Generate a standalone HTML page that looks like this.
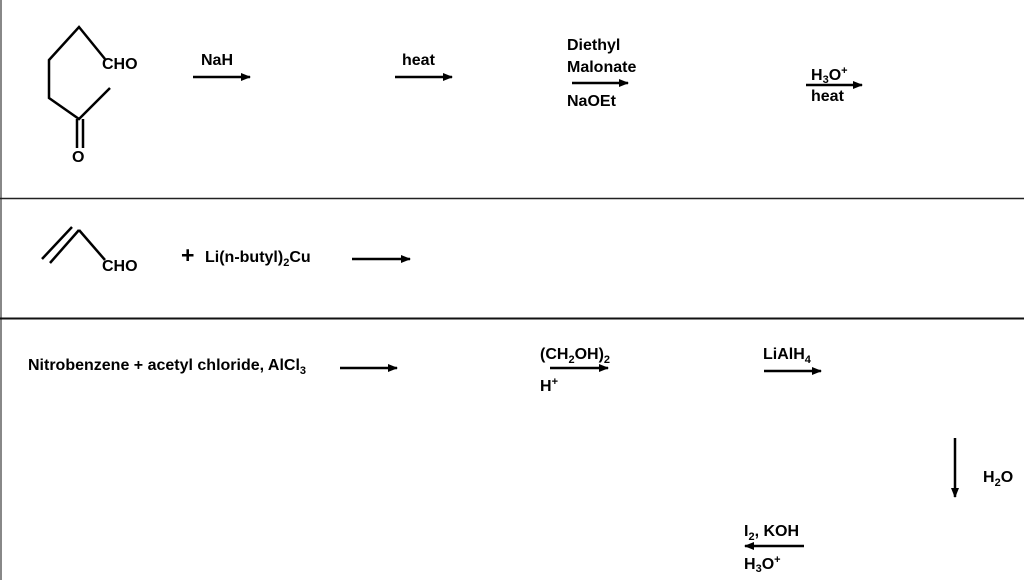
<!DOCTYPE html>
<html><head><style>
html,body{margin:0;padding:0;background:#fff;}
svg{display:block;}
text{font-family:"Liberation Sans",sans-serif;font-weight:bold;font-size:16px;fill:#000;}
.s{font-size:11px;}
</style></head><body>
<svg width="1024" height="580" viewBox="0 0 1024 580">
<defs><marker id="a" markerWidth="10" markerHeight="10" refX="9" refY="5" orient="auto" markerUnits="userSpaceOnUse"><path d="M0,1 L10,5 L0,9 Z" fill="#000"/></marker></defs>
<line x1="1" y1="0" x2="1" y2="580" stroke="#888" stroke-width="2"/>
<line x1="0" y1="198.5" x2="1024" y2="198.5" stroke="#222" stroke-width="1.5"/>
<line x1="0" y1="318.5" x2="1024" y2="318.5" stroke="#111" stroke-width="2"/>
<g stroke="#000" stroke-width="2.5" fill="none">
<polyline points="105,59 79,27 49,60 49,98 79,119 110,88"/>
<line x1="77" y1="119" x2="77" y2="148"/><line x1="83" y1="119" x2="83" y2="148"/>
<line x1="42" y1="259" x2="72" y2="227"/><line x1="50" y1="263" x2="79" y2="230"/>
<polyline points="79,230 105,260"/>
</g>
<g stroke="#000" stroke-width="2.5" marker-end="url(#a)">
<line x1="193" y1="77" x2="250" y2="77"/>
<line x1="395" y1="77" x2="452" y2="77"/>
<line x1="572" y1="83" x2="628" y2="83"/>
<line x1="806" y1="85" x2="862" y2="85"/>
<line x1="352" y1="259" x2="410" y2="259"/>
<line x1="340" y1="368" x2="397" y2="368"/>
<line x1="550" y1="368" x2="608" y2="368"/>
<line x1="764" y1="371" x2="821" y2="371"/>
<line x1="955" y1="438" x2="955" y2="497"/>
<line x1="804" y1="546" x2="745" y2="546"/>
</g>
<text x="102" y="69">CHO</text>
<text x="72" y="162">O</text>
<text x="201" y="65">NaH</text>
<text x="402" y="65">heat</text>
<text x="567" y="50">Diethyl</text>
<text x="567" y="72">Malonate</text>
<text x="567" y="106">NaOEt</text>
<text x="811" y="80">H<tspan class="s" dy="3">3</tspan><tspan dy="-3">O</tspan><tspan class="s" dy="-6">+</tspan></text>
<text x="811" y="101">heat</text>
<text x="102" y="271">CHO</text>
<text x="181" y="263" style="font-size:23px">+</text>
<text x="205" y="262">Li(n-butyl)<tspan class="s" dy="4">2</tspan><tspan dy="-4">Cu</tspan></text>
<text x="28" y="370">Nitrobenzene + acetyl chloride, AlCl<tspan class="s" dy="4">3</tspan></text>
<text x="540" y="359">(CH<tspan class="s" dy="4">2</tspan><tspan dy="-4">OH)</tspan><tspan class="s" dy="4">2</tspan></text>
<text x="540" y="391">H<tspan class="s" dy="-6">+</tspan></text>
<text x="763" y="359">LiAlH<tspan class="s" dy="4">4</tspan></text>
<text x="983" y="482">H<tspan class="s" dy="4">2</tspan><tspan dy="-4">O</tspan></text>
<text x="744" y="536">I<tspan class="s" dy="4">2</tspan><tspan dy="-4">, KOH</tspan></text>
<text x="744" y="569">H<tspan class="s" dy="3">3</tspan><tspan dy="-3">O</tspan><tspan class="s" dy="-6">+</tspan></text>
</svg>
</body></html>
